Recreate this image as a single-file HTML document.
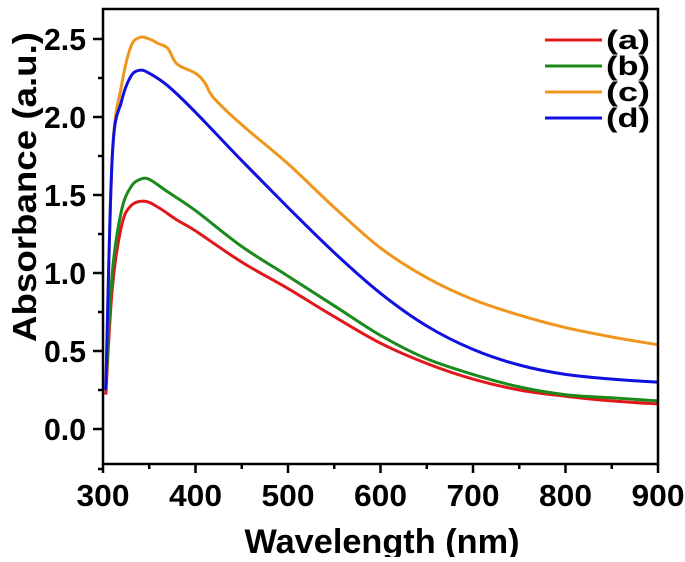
<!DOCTYPE html>
<html><head><meta charset="utf-8"><style>
html,body{margin:0;padding:0;background:#fff;}
svg text{font-family:"Liberation Sans",Arial,sans-serif;font-weight:bold;fill:#000;}
</style></head><body>
<svg id="chart" width="685" height="557"></svg>
<script>
const xTicks=[300,400,500,600,700,800,900];
const yTicks=[0.0,0.5,1.0,1.5,2.0,2.5];
const yTickLabels=["0.0","0.5","1.0","1.5","2.0","2.5"];
const waveA=[303,310,320,330,345,360,380,400,450,500,550,600,650,700,750,800,850,900];
const absA=[0.22,0.9,1.3,1.43,1.46,1.42,1.34,1.27,1.07,0.90,0.72,0.55,0.42,0.32,0.25,0.21,0.18,0.16];
const waveB=[303,310,320,330,340,350,370,400,450,500,550,600,650,700,750,800,850,900];
const absB=[0.25,1.0,1.4,1.55,1.60,1.60,1.52,1.40,1.17,0.98,0.79,0.60,0.45,0.35,0.27,0.22,0.20,0.18];
const waveC=[303,310,320,330,340,350,360,370,380,400,410,420,450,500,550,600,650,700,750,800,850,900];
const absC=[0.25,1.75,2.2,2.45,2.51,2.50,2.47,2.44,2.34,2.28,2.22,2.12,1.95,1.70,1.42,1.16,0.97,0.83,0.73,0.65,0.59,0.54];
const waveD=[303,310,320,330,340,350,370,400,450,500,550,600,650,700,750,800,850,900];
const absD=[0.25,1.75,2.1,2.26,2.30,2.28,2.2,2.03,1.72,1.42,1.13,0.87,0.66,0.51,0.41,0.35,0.32,0.30];
const seriesNames=["(a)","(b)","(c)","(d)"];
const colors=["#e0181c","#1a8a1a","#f0951e","#1010e0"];
const L=103,R=658,T=9,B=464;
const X=v=>L+(v-300)/600*(R-L);
const Y=v=>429-v*156;
const svg=document.getElementById('chart');
const NS="http://www.w3.org/2000/svg";
function mk(tag,attrs,parent){const e=document.createElementNS(NS,tag);for(const k in attrs)e.setAttribute(k,attrs[k]);(parent||svg).appendChild(e);return e;}
const series=[[waveA,absA],[waveB,absB],[waveC,absC],[waveD,absD]];
series.forEach((s,i)=>{
  const pts=s[0].map((w,j)=>[X(w),Y(s[1][j])]);
  let d='M'+pts[0][0].toFixed(1)+','+pts[0][1].toFixed(1);
  for(let j=0;j<pts.length-1;j++){
    const p0=pts[Math.max(0,j-1)],p1=pts[j],p2=pts[j+1],p3=pts[Math.min(pts.length-1,j+2)];
    const c1=[p1[0]+(p2[0]-p0[0])/6,p1[1]+(p2[1]-p0[1])/6],c2=[p2[0]-(p3[0]-p1[0])/6,p2[1]-(p3[1]-p1[1])/6];
    d+=' C'+c1.map(v=>v.toFixed(1)).join(',')+' '+c2.map(v=>v.toFixed(1)).join(',')+' '+p2.map(v=>v.toFixed(1)).join(',');
  }
  const p=mk('path',{d:d,fill:'none',stroke:colors[i],'stroke-width':3,'stroke-linejoin':'round'});
  
  
});
const frame=mk('rect',{x:L,y:T,width:R-L,height:B-T,fill:'none',stroke:'#000','stroke-width':2.5});


xTicks.forEach((v,i)=>{
  mk('line',{x1:X(v),x2:X(v),y1:B,y2:B+9,stroke:'#000','stroke-width':2.5});
  if(i<xTicks.length-1)mk('line',{x1:X(v+50),x2:X(v+50),y1:B,y2:B+5,stroke:'#000','stroke-width':2.5});
  const t=mk('text',{x:X(v),y:B+42,'text-anchor':'middle','font-size':31,textLength:53,lengthAdjust:'spacingAndGlyphs'});
  t.textContent=v;
  
  
});
yTicks.forEach((v,i)=>{
  mk('line',{x1:L-10,x2:L,y1:Y(v),y2:Y(v),stroke:'#000','stroke-width':2.5});
  if(Y(v+0.25)>T+3)mk('line',{x1:L-5,x2:L,y1:Y(v+0.25),y2:Y(v+0.25),stroke:'#000','stroke-width':2.5});
  const t=mk('text',{x:L-17,y:Y(v)+11,'text-anchor':'end','font-size':31,textLength:42,lengthAdjust:'spacingAndGlyphs'});
  t.textContent=yTickLabels[i];
  
  
});
mk('line',{x1:L-5,x2:L,y1:Y(-0.25)+1,y2:Y(-0.25)+1,stroke:'#000','stroke-width':2.5});
const xt=mk('text',{x:382,y:553,'text-anchor':'middle','font-size':34,textLength:275,lengthAdjust:'spacingAndGlyphs'});
xt.textContent='Wavelength (nm)';


const yt=mk('text',{x:0,y:0,'text-anchor':'middle','font-size':33,textLength:310,lengthAdjust:'spacingAndGlyphs',transform:'translate(36,187) rotate(-90)'});
yt.textContent='Absorbance (a.u.)';


seriesNames.forEach((n,i)=>{
  const y=40+i*26;
  const g=mk('g',{});
  
  
  mk('line',{x1:545,x2:602,y1:y,y2:y,stroke:colors[i],'stroke-width':3},g);
  const t=mk('text',{x:606,y:y+9,'font-size':27,textLength:44,lengthAdjust:'spacingAndGlyphs'},g);
  t.textContent=n;
});
</script>
</body></html>
